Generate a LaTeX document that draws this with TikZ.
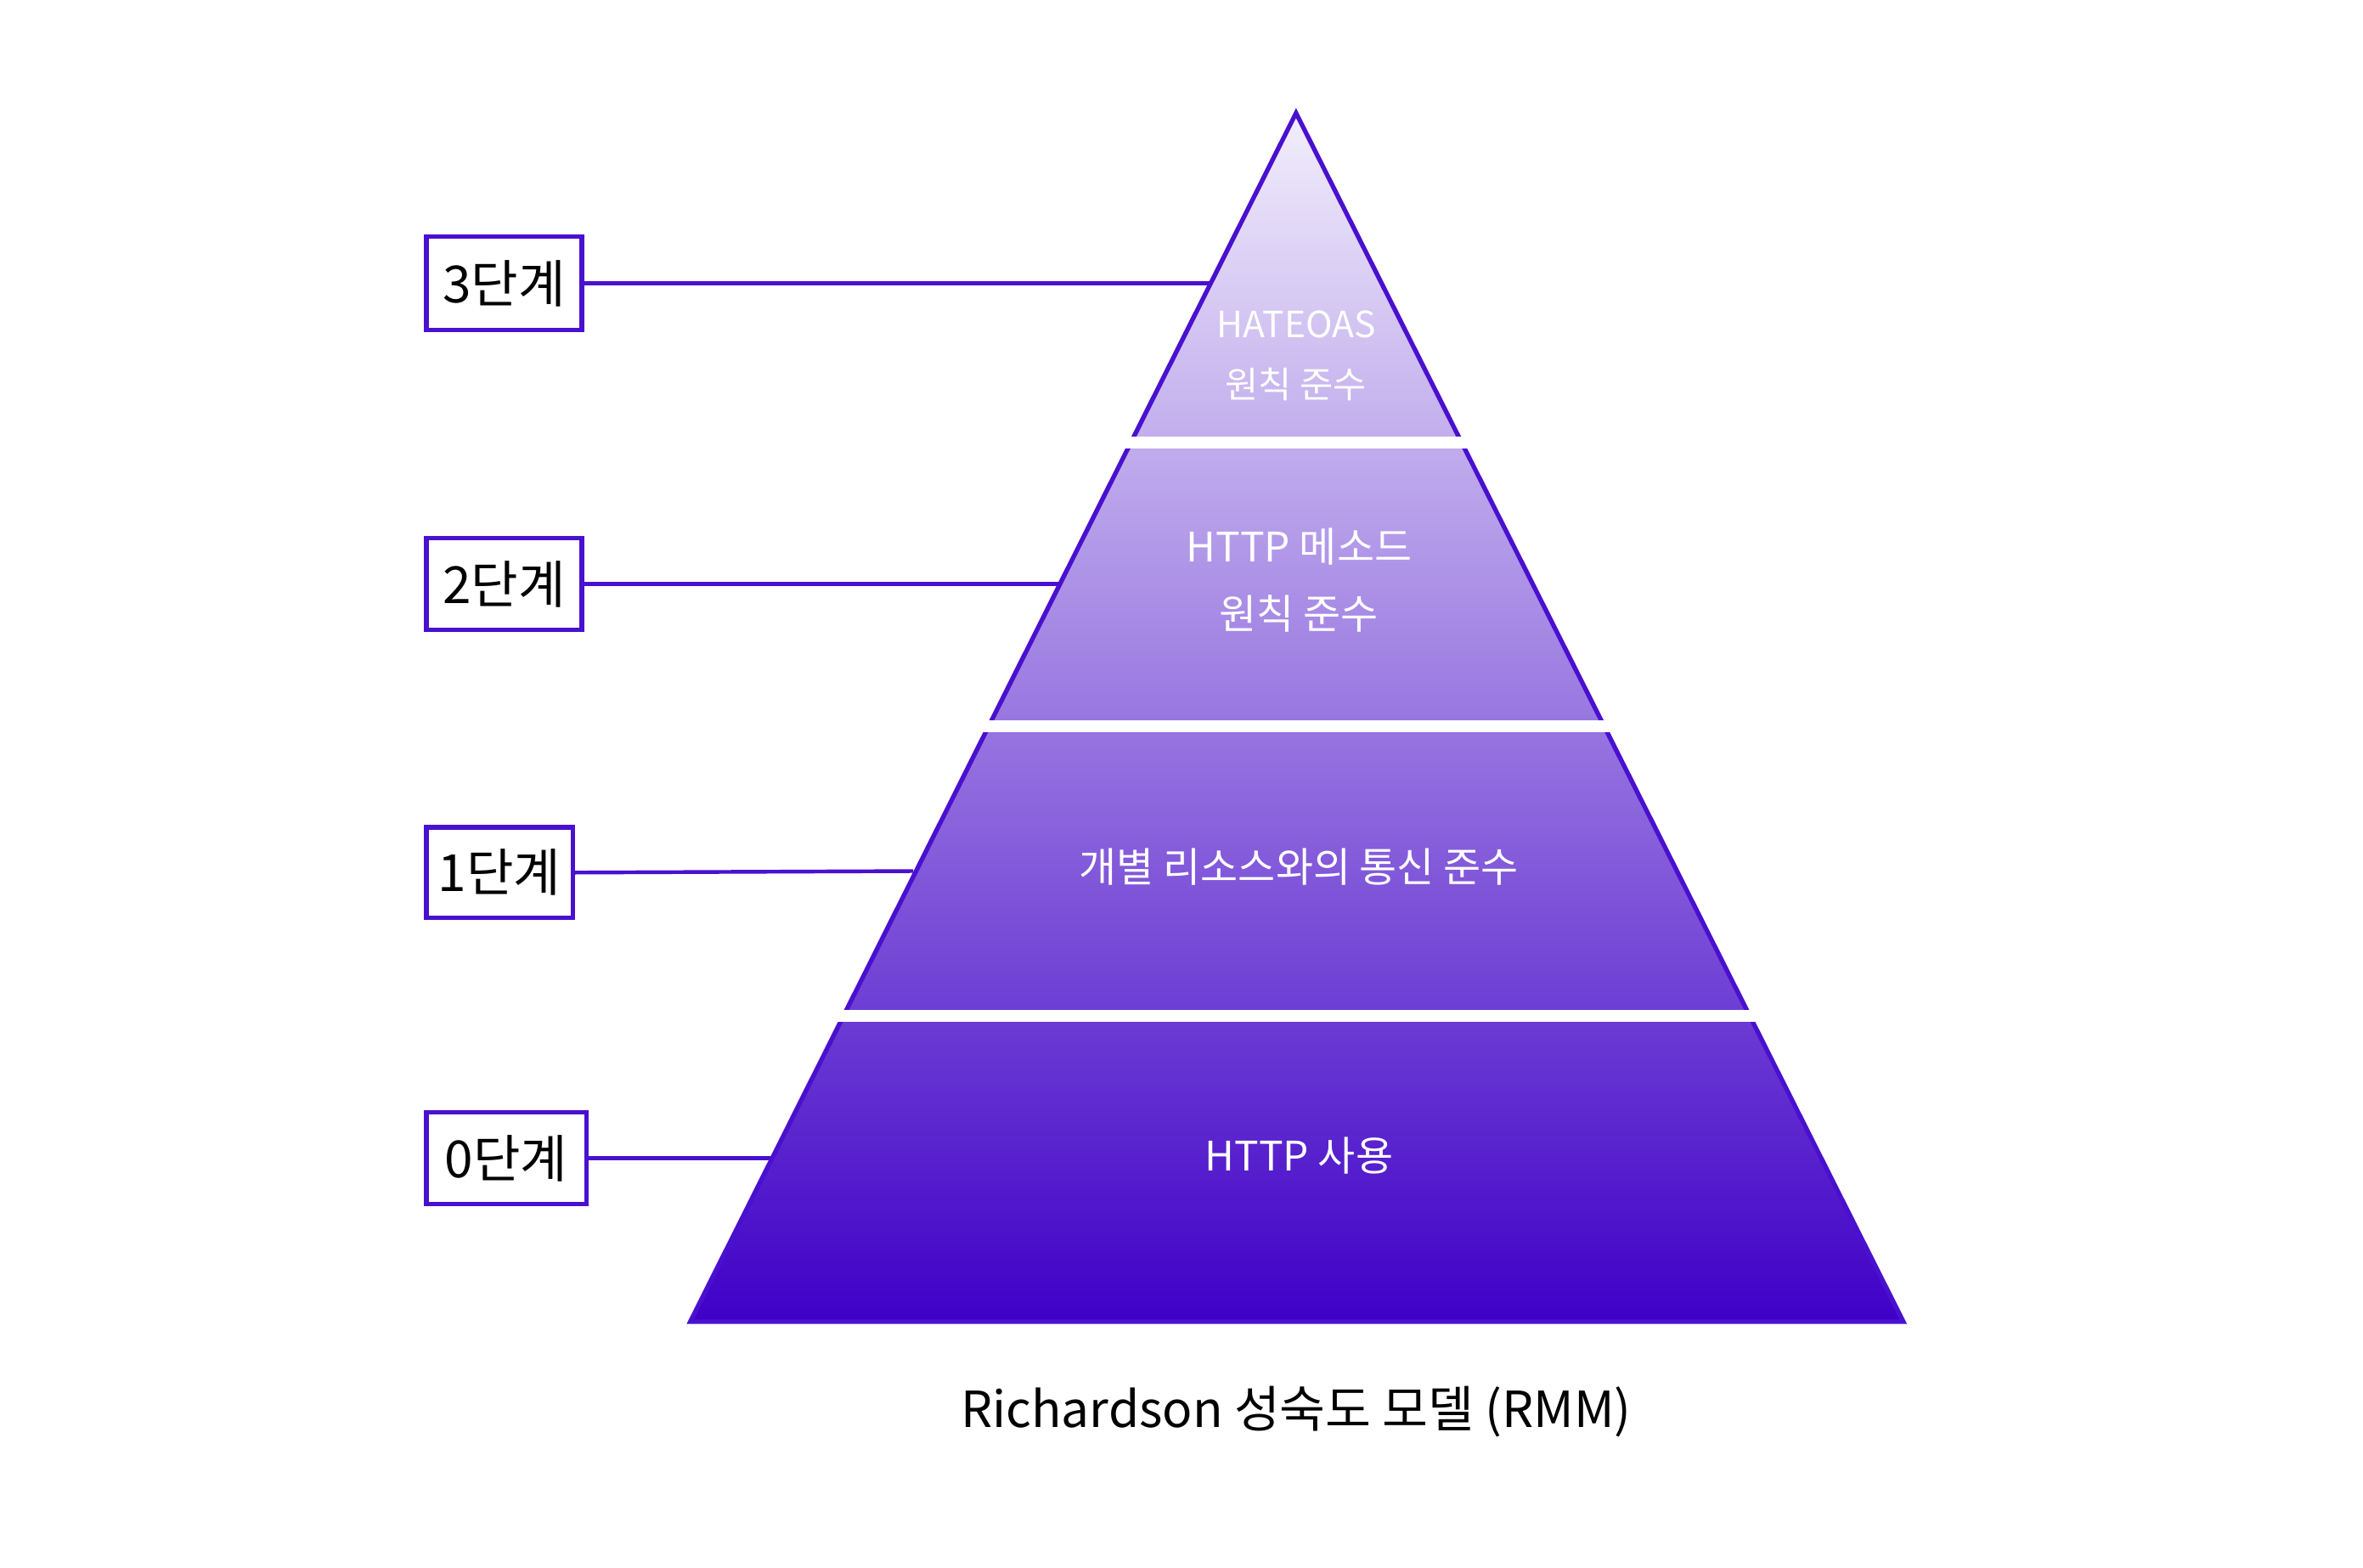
\documentclass[tikz,border=0pt]{standalone}
\usepackage{fontspec}
\setmainfont{Noto Sans CJK KR}
\definecolor{edge}{HTML}{4A10D0}
\definecolor{topc}{HTML}{F2EEFB}
\definecolor{botc}{HTML}{3F00C6}
\tikzset{lvl/.style={draw=edge,line width=3pt,fill=white,inner sep=6pt,font=\fontsize{34}{38}\selectfont},
 conn/.style={draw=edge,line width=2.5pt},
 inner/.style={text=white,align=center,font=\fontsize{27}{44}\selectfont}}
\begin{document}
\begin{tikzpicture}[x=1pt,y=-1pt]
\useasboundingbox (0,0) rectangle (1568,1040);
\coordinate (A) at (860,75);\coordinate (L) at (458,877);\coordinate (R) at (1263,877);
\shade[top color=topc,bottom color=botc] (A)--(L)--(R)--cycle;
\draw[edge,line width=3pt,line join=miter] (A)--(L)--(R)--cycle;
\foreach \y in {293.5,482,674}{\fill[white] (400,\y-4) rectangle (1320,\y+4);}
\node[lvl,minimum width=103pt,minimum height=62pt] (l3) at (334.5,188) {3단계};
\node[lvl,minimum width=103pt,minimum height=61pt] (l2) at (334.5,387.5) {2단계};
\node[lvl,minimum width=97pt,minimum height=60pt] (l1) at (331.5,579) {1단계};
\node[lvl,minimum width=106pt,minimum height=61pt] (l0) at (336,768.5) {0단계};
\coordinate (e3) at (803,188);\coordinate (e2) at (703,387.5);\coordinate (e1) at (606,578);\coordinate (e0) at (512,768.5);
\draw[conn] (l3.east)--(e3);\draw[conn] (l2.east)--(e2);\draw[conn] (l1.east)--(e1);\draw[conn] (l0.east)--(e0);
\node[inner,font=\fontsize{24}{40}\selectfont] (t3) at (860,236) {HATEOAS\\원칙 준수};
\node[inner] (t2) at (862,385) {HTTP 메소드\\원칙 준수};
\node[inner] (t1) at (862,575) {개별 리소스와의 통신 준수};
\node[inner] (t0) at (862,767) {HTTP 사용};
\node[font=\fontsize{33}{36}\selectfont] (title) at (860,937) {Richardson 성숙도 모델 (RMM)};
\end{tikzpicture}
\end{document}
